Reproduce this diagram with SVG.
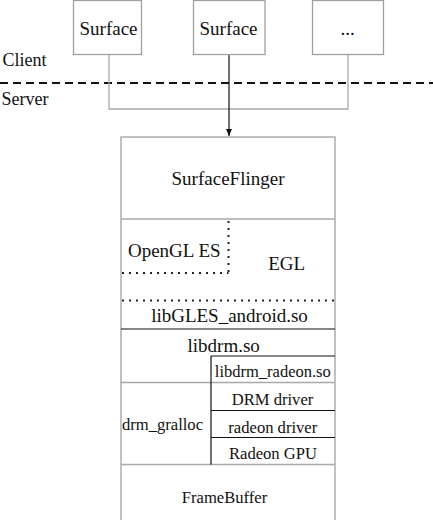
<svg xmlns="http://www.w3.org/2000/svg" width="433" height="520" viewBox="0 0 433 520" font-family="'Liberation Serif', 'Times New Roman', serif">
<defs>
<style>
text{fill:#111;text-anchor:middle}
.box{fill:#fff;stroke:#a0a0a0;stroke-width:1.3}
.g{stroke:#a8a8a8;stroke-width:1.3;fill:none}
.k{stroke:#111;stroke-width:1.2;fill:none}
.dot{stroke:#222;stroke-width:2;stroke-dasharray:2 5;fill:none}
.big{font-size:19px}
.sm{font-size:16.6px}
</style>
<marker id="arr" markerWidth="8" markerHeight="8" refX="7" refY="4" orient="auto" markerUnits="userSpaceOnUse">
<path d="M0,1 L7,4 L0,7 Z" fill="#111"/>
</marker>
</defs>
<rect width="433" height="520" fill="#fff"/>
<g id="labels">
<text x="2.5" y="66" style="font-size:18px;text-anchor:start">Client</text>
<text x="1.5" y="105" style="font-size:18px;text-anchor:start">Server</text>
<line x1="0" y1="83" x2="433" y2="83" stroke="#111" stroke-width="2.2" stroke-dasharray="8 5"/>
</g>
<g id="connectors">
<polyline class="g" points="109,54.5 109,109 348,109 348,54.5"/>
<line class="k" x1="229" y1="54.5" x2="229" y2="136" marker-end="url(#arr)"/>
</g>
<g id="surface1">
<rect class="box" x="73.5" y="0.5" width="68" height="54"/>
<text class="big" x="108.5" y="35">Surface</text>
</g>
<g id="surface2">
<rect class="box" x="193.5" y="0.5" width="71.5" height="54"/>
<text class="big" x="228.5" y="35">Surface</text>
</g>
<g id="surface3">
<rect class="box" x="312.5" y="0.5" width="71" height="54"/>
<text class="big" x="347.7" y="35">...</text>
</g>
<g id="stack">
<rect class="box" x="121" y="137" width="214" height="390"/>
<line class="g" x1="121" y1="219" x2="335" y2="219"/>
<line class="dot" x1="228.5" y1="221" x2="228.5" y2="273"/>
<line class="dot" x1="122" y1="273" x2="228.5" y2="273"/>
<line class="dot" x1="122" y1="300.5" x2="334" y2="300.5"/>
<line class="k" x1="121" y1="329" x2="335" y2="329"/>
<line class="k" x1="211" y1="356" x2="335" y2="356"/>
<line class="g" x1="121" y1="382.5" x2="335" y2="382.5"/>
<line class="k" x1="211" y1="410.5" x2="335" y2="410.5"/>
<line class="k" x1="211" y1="437.5" x2="335" y2="437.5"/>
<line class="g" x1="121" y1="464.5" x2="335" y2="464.5"/>
<line class="k" x1="211" y1="356" x2="211" y2="464.5"/>
</g>
<g id="surfaceflinger"><text class="big" x="228" y="185">SurfaceFlinger</text></g>
<g id="opengles"><text class="big" x="174.3" y="257">OpenGL ES</text></g>
<g id="egl"><text class="big" x="286.7" y="270">EGL</text></g>
<g id="libgles"><text class="big" x="229.5" y="322">libGLES_android.so</text></g>
<g id="libdrm"><text class="big" x="223.7" y="352">libdrm.so</text></g>
<g id="libdrm_radeon"><text style="font-size:16.5px" x="272.8" y="377">libdrm_radeon.so</text></g>
<g id="drm_gralloc"><text class="sm" x="162.5" y="430">drm_gralloc</text></g>
<g id="drm_driver"><text class="sm" x="272.5" y="405">DRM driver</text></g>
<g id="radeon_driver"><text class="sm" x="272.8" y="432.5">radeon driver</text></g>
<g id="radeon_gpu"><text class="sm" x="273" y="459">Radeon GPU</text></g>
<g id="framebuffer"><text class="sm" x="224.5" y="503">FrameBuffer</text></g>
</svg>
